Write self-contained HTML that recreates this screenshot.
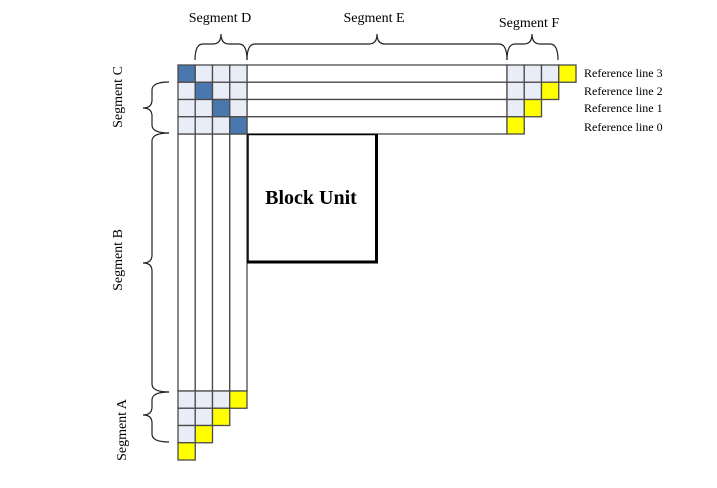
<!DOCTYPE html>
<html><head><meta charset="utf-8"><style>
html,body{margin:0;padding:0;background:#fff;}
svg{display:block;}
text{font-family:"Liberation Serif",serif;fill:#000;}
</style></head><body>
<svg width="717" height="488" viewBox="0 0 717 488" xmlns="http://www.w3.org/2000/svg">
<g stroke="#4a4a4a" stroke-width="1.3">
<!-- top strip white rows -->
<rect x="247" y="65" width="260" height="17.25" fill="#fff"/>
<rect x="247" y="82.25" width="260" height="17.25" fill="#fff"/>
<rect x="247" y="99.5" width="260" height="17.25" fill="#fff"/>
<rect x="247" y="116.75" width="260" height="17.25" fill="#fff"/>
<!-- left strip white cols -->
<rect x="178" y="134" width="17.25" height="257" fill="#fff"/>
<rect x="195.25" y="134" width="17.25" height="257" fill="#fff"/>
<rect x="212.5" y="134" width="17.25" height="257" fill="#fff"/>
<rect x="229.75" y="134" width="17.25" height="257" fill="#fff"/>
<!-- top-left 4x4 -->
<rect x="178" y="65" width="17.25" height="17.25" fill="#4a77ae"/>
<rect x="195.25" y="65" width="17.25" height="17.25" fill="#e8edf7"/>
<rect x="212.5" y="65" width="17.25" height="17.25" fill="#e8edf7"/>
<rect x="229.75" y="65" width="17.25" height="17.25" fill="#e8edf7"/>
<rect x="178" y="82.25" width="17.25" height="17.25" fill="#e8edf7"/>
<rect x="195.25" y="82.25" width="17.25" height="17.25" fill="#4a77ae"/>
<rect x="212.5" y="82.25" width="17.25" height="17.25" fill="#e8edf7"/>
<rect x="229.75" y="82.25" width="17.25" height="17.25" fill="#e8edf7"/>
<rect x="178" y="99.5" width="17.25" height="17.25" fill="#e8edf7"/>
<rect x="195.25" y="99.5" width="17.25" height="17.25" fill="#e8edf7"/>
<rect x="212.5" y="99.5" width="17.25" height="17.25" fill="#4a77ae"/>
<rect x="229.75" y="99.5" width="17.25" height="17.25" fill="#e8edf7"/>
<rect x="178" y="116.75" width="17.25" height="17.25" fill="#e8edf7"/>
<rect x="195.25" y="116.75" width="17.25" height="17.25" fill="#e8edf7"/>
<rect x="212.5" y="116.75" width="17.25" height="17.25" fill="#e8edf7"/>
<rect x="229.75" y="116.75" width="17.25" height="17.25" fill="#4a77ae"/>
<!-- right cells -->
<rect x="507" y="65" width="17.25" height="17.25" fill="#e8edf7"/>
<rect x="524.25" y="65" width="17.25" height="17.25" fill="#e8edf7"/>
<rect x="541.5" y="65" width="17.25" height="17.25" fill="#e8edf7"/>
<rect x="558.75" y="65" width="17.25" height="17.25" fill="#ffff00"/>
<rect x="507" y="82.25" width="17.25" height="17.25" fill="#e8edf7"/>
<rect x="524.25" y="82.25" width="17.25" height="17.25" fill="#e8edf7"/>
<rect x="541.5" y="82.25" width="17.25" height="17.25" fill="#ffff00"/>
<rect x="507" y="99.5" width="17.25" height="17.25" fill="#e8edf7"/>
<rect x="524.25" y="99.5" width="17.25" height="17.25" fill="#ffff00"/>
<rect x="507" y="116.75" width="17.25" height="17.25" fill="#ffff00"/>
<!-- bottom cells -->
<rect x="178" y="391" width="17.25" height="17.25" fill="#e8edf7"/>
<rect x="195.25" y="391" width="17.25" height="17.25" fill="#e8edf7"/>
<rect x="212.5" y="391" width="17.25" height="17.25" fill="#e8edf7"/>
<rect x="229.75" y="391" width="17.25" height="17.25" fill="#ffff00"/>
<rect x="178" y="408.25" width="17.25" height="17.25" fill="#e8edf7"/>
<rect x="195.25" y="408.25" width="17.25" height="17.25" fill="#e8edf7"/>
<rect x="212.5" y="408.25" width="17.25" height="17.25" fill="#ffff00"/>
<rect x="178" y="425.5" width="17.25" height="17.25" fill="#e8edf7"/>
<rect x="195.25" y="425.5" width="17.25" height="17.25" fill="#ffff00"/>
<rect x="178" y="442.75" width="17.25" height="17.25" fill="#ffff00"/>
</g>
<!-- block unit -->
<rect x="248" y="134.5" width="128.5" height="127" fill="#fff" stroke="#000" stroke-width="1.5"/>
<path d="M376.5 134 V262 H247" fill="none" stroke="#000" stroke-width="3"/>
<text x="311" y="204" font-size="20" font-weight="bold" text-anchor="middle">Block Unit</text>
<!-- braces -->
<g fill="none" stroke="#222" stroke-width="1.2">
<path d="M195 60 Q195 44 203 44 L213 44 Q221 44 221 34 Q221 44 229 44 L239 44 Q247 44 247 60"/>
<path d="M247 60 Q247 44 255 44 L369 44 Q377 44 377 34 Q377 44 385 44 L499 44 Q507 44 507 60"/>
<path d="M507 60 Q507 44 515 44 L524 44 Q532 44 532 34 Q532 44 540 44 L550 44 Q558 44 558 60"/>
<path d="M169 82 Q152 82 152 90 L152 100 Q152 108 143 108 Q152 108 152 116 L152 125 Q152 133 169 133"/>
<path d="M169 133 Q152 133 152 141 L152 255 Q152 263 143 263 Q152 263 152 271 L152 384 Q152 392 169 392"/>
<path d="M169 392 Q152 392 152 400 L152 407 Q152 415 143 415 Q152 415 152 423 L152 434 Q152 442 169 442"/>
</g>
<!-- labels -->
<text x="220" y="22" font-size="14" text-anchor="middle">Segment D</text>
<text x="374" y="22" font-size="14" text-anchor="middle">Segment E</text>
<text x="529" y="27" font-size="14" text-anchor="middle">Segment F</text>
<text font-size="14" text-anchor="middle" transform="translate(122,97) rotate(-90)">Segment C</text>
<text font-size="14" text-anchor="middle" transform="translate(122,260) rotate(-90)">Segment B</text>
<text font-size="14" text-anchor="middle" transform="translate(126,430) rotate(-90)">Segment A</text>
<text x="584" y="77" font-size="12">Reference line 3</text>
<text x="584" y="95" font-size="12">Reference line 2</text>
<text x="584" y="112" font-size="12">Reference line 1</text>
<text x="584" y="131" font-size="12">Reference line 0</text>
</svg>
</body></html>
